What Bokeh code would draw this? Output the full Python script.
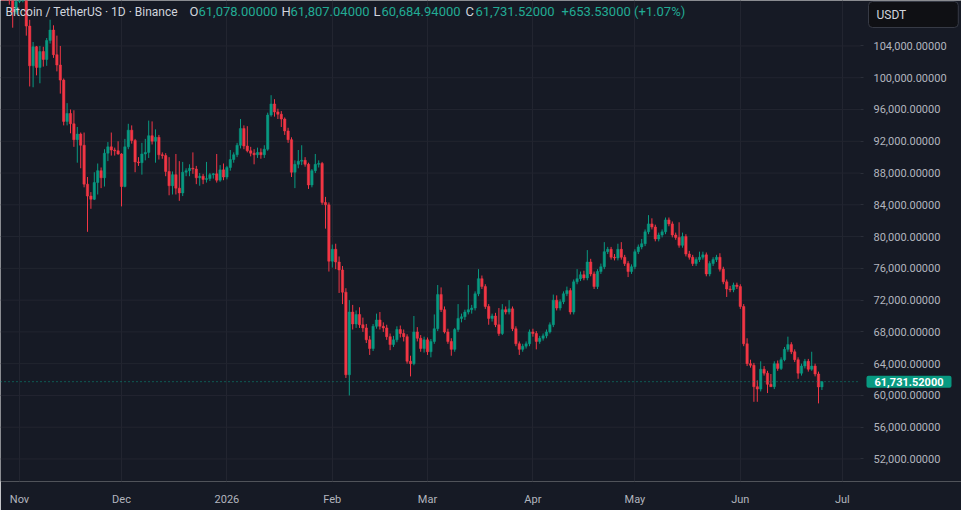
import pandas as pd
from bokeh.plotting import figure
from bokeh.models import ColumnDataSource, Range1d, FixedTicker, NumeralTickFormatter, Label
from bokeh.embed import file_html
from bokeh.resources import INLINE

# ---------------- data (daily candles, BTC/USDT) ----------------
start_date = "2025-10-27"
opens = [114500, 114100, 112900, 110000, 108300, 109600, 110100, 110600, 106500, 101500,
         103900, 101300, 103300, 102300, 104700, 106000, 102900, 101600, 99700, 94500,
         95500, 94200, 92200, 92900, 91500, 86600, 85100, 84700, 86800, 88300,
         87400, 90500, 91300, 90900, 90800, 90400, 86300, 91300, 93400, 92100,
         89400, 89300, 90400, 90600, 92700, 92000, 92500, 90300, 90200, 88200,
         86400, 87800, 86100, 85500, 88100, 88300, 88600, 88500, 87400, 87600,
         87200, 87300, 87800, 87900, 87100, 88400, 87500, 88700, 89700, 90300,
         91500, 93600, 91400, 90800, 90500, 90300, 90600, 90300, 91000, 95300,
         96700, 95700, 95400, 94800, 93300, 92200, 88100, 89100, 89500, 89600,
         89100, 86500, 88300, 89100, 89200, 84300, 84000, 76900, 78400, 76800,
         75800, 73000, 62600, 70500, 69000, 70200, 68900, 68500, 67000, 65900,
         68700, 69500, 68700, 68500, 67400, 66400, 67000, 68300, 67800, 67400,
         64300, 64000, 68000, 67200, 65900, 67000, 65500, 66800, 68400, 72700,
         70800, 68000, 66800, 65800, 68300, 69700, 69900, 70500, 70800, 71000,
         72800, 74700, 73700, 71200, 69700, 70000, 68900, 67800, 70800, 70500,
         70900, 68400, 66500, 65800, 66200, 66500, 68000, 67800, 66800, 67200,
         67500, 68000, 68900, 72000, 71000, 71800, 72800, 73200, 70500, 74300,
         74700, 75200, 74800, 76800, 75300, 73700, 75600, 76200, 78100, 78400,
         77400, 77300, 78400, 77400, 76600, 75600, 76200, 78100, 78700, 79100,
         80600, 81600, 81200, 79700, 80200, 80600, 82100, 81600, 80200, 79900,
         78900, 80000, 77800, 77400, 76600, 77100, 77400, 77700, 75300, 76600,
         77100, 77400, 75900, 74300, 73400, 73300, 73900, 73700, 71200, 66500,
         64000, 63800, 61100, 60800, 63300, 62800, 61400, 61100, 64000, 63400,
         64500, 65800, 66400, 65500, 64500, 62800, 63700, 64300, 63300, 63700,
         62700, 61078.00]
highs = [116400, 116100, 113600, 111600, 111200, 110600, 111200, 110800, 107300, 104500,
         104000, 104000, 103900, 105000, 107300, 106600, 105300, 104000, 99900, 96800,
         96000, 95900, 93800, 93100, 93100, 87500, 85600, 88100, 89200, 88700,
         91000, 91900, 93100, 91200, 92000, 90500, 92300, 94200, 94000, 92300,
         90000, 91800, 92300, 94600, 94500, 93500, 92800, 90600, 90500, 90000,
         88200, 90400, 89500, 89400, 88600, 89100, 90600, 88900, 88000, 87900,
         89400, 88000, 88000, 90400, 89000, 89200, 88900, 90900, 90600, 91800,
         94800, 94000, 93900, 91300, 91000, 91200, 91100, 91500, 95600, 97800,
         97300, 96100, 95800, 95000, 93700, 92500, 89600, 90900, 91500, 90000,
         89300, 88500, 90400, 89600, 89400, 85000, 84300, 79000, 79100, 77500,
         76300, 73500, 72000, 71400, 70700, 71100, 69800, 69000, 67500, 69000,
         70300, 70500, 69200, 68900, 67800, 67500, 68700, 68800, 68300, 67700,
         65000, 70000, 68600, 67600, 67400, 67300, 67100, 70200, 73900, 73600,
         71200, 68400, 67200, 68500, 71500, 70300, 70800, 73900, 71400, 73100,
         75900, 75100, 74000, 71500, 70300, 70400, 71000, 71500, 71200, 72000,
         71200, 68700, 66800, 66500, 66800, 68300, 68400, 68100, 67500, 67800,
         68300, 69200, 72700, 72600, 72100, 73100, 73700, 73500, 74600, 75900,
         75600, 75700, 78300, 77200, 75600, 75900, 76600, 79300, 78700, 78700,
         77800, 79100, 79300, 77700, 76900, 76500, 78400, 79000, 79700, 80900,
         82700, 82300, 81500, 80500, 80900, 82400, 82400, 81900, 80500, 81800,
         80500, 80300, 78200, 77700, 77400, 78100, 78100, 78000, 76900, 77400,
         77700, 77900, 76200, 74600, 73800, 74200, 74200, 74000, 71500, 67200,
         64500, 64100, 61900, 64300, 63700, 63100, 62700, 64300, 64400, 64800,
         66100, 67400, 66700, 65800, 64800, 64000, 64600, 64600, 65500, 64000,
         63000, 61807.04]
lows = [113900, 112200, 109200, 106300, 108000, 109400, 109500, 105300, 98900, 98800,
        100300, 99300, 101400, 101500, 104300, 102500, 100800, 98000, 94000, 94000,
        93000, 91300, 89300, 88600, 86200, 80600, 83500, 84600, 85300, 86100,
        86300, 89500, 90200, 90200, 90300, 83800, 86200, 91000, 91700, 88100,
        88900, 87800, 89600, 89900, 91600, 89300, 89700, 89800, 87600, 85200,
        85300, 85300, 84500, 85100, 87600, 87600, 87900, 86600, 86400, 86600,
        86800, 87000, 87300, 86800, 86900, 87100, 87200, 88300, 89300, 90000,
        91100, 91000, 90600, 90100, 89100, 89900, 89800, 89900, 90800, 95100,
        95100, 94800, 93800, 92800, 91800, 87500, 86100, 88600, 89000, 88800,
        86000, 86200, 88000, 88700, 84000, 81000, 75600, 76100, 75900, 72900,
        71500, 62200, 60000, 68300, 68500, 68500, 68000, 66600, 65100, 65600,
        68400, 68300, 68000, 67000, 65700, 66100, 66700, 67300, 66800, 64000,
        62400, 63800, 66800, 65500, 65400, 65100, 64800, 66500, 68100, 70500,
        67800, 66500, 65000, 65500, 68000, 69200, 69500, 70200, 70300, 70700,
        72500, 73400, 70900, 68900, 69300, 68600, 67500, 67600, 70200, 70200,
        68100, 66200, 65100, 65500, 65900, 66200, 67400, 65800, 66500, 66900,
        67200, 67800, 68600, 70700, 70700, 71500, 72500, 70200, 70200, 74000,
        74400, 74500, 74500, 75000, 73400, 73400, 75300, 75900, 77800, 77100,
        77000, 77000, 77100, 76300, 74900, 75300, 75900, 77800, 78400, 78800,
        80300, 80900, 79400, 79400, 79900, 80300, 81300, 79900, 79600, 78600,
        78600, 77500, 77100, 76300, 76300, 76800, 77100, 75000, 75000, 76300,
        76800, 75600, 74000, 72400, 73000, 73000, 73400, 70900, 66200, 63700,
        63500, 59200, 59200, 60500, 62500, 60300, 61100, 60800, 63100, 63200,
        64300, 65500, 65200, 64200, 62100, 62500, 63400, 63000, 63100, 62400,
        59000, 60684.94]
closes = [114100, 112900, 110000, 108300, 109600, 110100, 110600, 106500, 101500, 103900,
          101300, 103300, 102300, 104700, 106000, 102900, 101600, 99700, 94500, 95500,
          94200, 92200, 92900, 91500, 86600, 85100, 84700, 86800, 88300, 87400,
          90500, 91300, 90900, 90800, 90400, 86300, 91300, 93400, 92100, 89400,
          89300, 90400, 90600, 92700, 92000, 92500, 90300, 90200, 88200, 86400,
          87800, 86100, 85500, 88100, 88300, 88600, 88500, 87400, 87600, 87200,
          87300, 87800, 87900, 87100, 88400, 87500, 88700, 89700, 90300, 91500,
          93600, 91400, 90800, 90500, 90300, 90600, 90300, 91000, 95300, 96700,
          95700, 95400, 94800, 93300, 92200, 88100, 89100, 89500, 89600, 89100,
          86500, 88300, 89100, 89200, 84300, 84000, 76900, 78400, 76800, 75800,
          73000, 62600, 70500, 69000, 70200, 68900, 68500, 67000, 65900, 68700,
          69500, 68700, 68500, 67400, 66400, 67000, 68300, 67800, 67400, 64300,
          64000, 68000, 67200, 65900, 67000, 65500, 66800, 68400, 72700, 70800,
          68000, 66800, 65800, 68300, 69700, 69900, 70500, 70800, 71000, 72800,
          74700, 73700, 71200, 69700, 70000, 68900, 67800, 70800, 70500, 70900,
          68400, 66500, 65800, 66200, 66500, 68000, 67800, 66800, 67200, 67500,
          68000, 68900, 72000, 71000, 71800, 72800, 73200, 70500, 74300, 74700,
          75200, 74800, 76800, 75300, 73700, 75600, 76200, 78100, 78400, 77400,
          77300, 78400, 77400, 76600, 75600, 76200, 78100, 78700, 79100, 80600,
          81600, 81200, 79700, 80200, 80600, 82100, 81600, 80200, 79900, 78900,
          80000, 77800, 77400, 76600, 77100, 77400, 77700, 75300, 76600, 77100,
          77400, 75900, 74300, 73400, 73300, 73900, 73700, 71200, 66500, 64000,
          63800, 61100, 60800, 63300, 62800, 61400, 61100, 64000, 63400, 64500,
          65800, 66400, 65500, 64500, 62800, 63700, 64300, 63300, 63700, 62700,
          61078.00, 61731.52]

month_starts = ["2025-11-01", "2025-12-01", "2026-01-01", "2026-02-01", "2026-03-01",
                "2026-04-01", "2026-05-01", "2026-06-01", "2026-07-01"]
month_labels = ["Nov", "Dec", "2026", "Feb", "Mar", "Apr", "May", "Jun", "Jul"]
price_ticks = [52000, 56000, 60000, 64000, 68000, 72000, 76000, 80000, 84000,
               88000, 92000, 96000, 100000, 104000]

symbol_text = "Bitcoin / TetherUS \u00b7 1D \u00b7 Binance"
last_open, last_high, last_low, last_close = 61078.00, 61807.04, 60684.94, 61731.52
change_text = "+653.53000 (+1.07%)"
currency = "USDT"

# ---------------- style ----------------
BG = "#161a25"
GRID = "#222530"
UP = "#089981"
DOWN = "#f23645"
TXT = "#b2b5be"
TITLE = "#d1d4dc"
LEG_UP = "#22ab94"

origin = pd.Timestamp("2025-11-01")
dates = pd.date_range(start_date, periods=len(closes), freq="D")
xs = [(d - origin).days for d in dates]
df = pd.DataFrame(dict(x=xs, open=opens, high=highs, low=lows, close=closes))
df["top"] = df[["open", "close"]].max(axis=1)
df["bottom"] = df[["open", "close"]].min(axis=1)
df["color"] = [UP if c >= o else DOWN for o, c in zip(df.open, df.close)]
src = ColumnDataSource(df)

month_pos = [(pd.Timestamp(m) - origin).days for m in month_starts]

PX_PER_DAY = 3.4
W = 961
PANE_W = 860                      # chart pane width, price scale to its right
x_start = -19 / PX_PER_DAY
x_end = x_start + W / PX_PER_DAY
x_scale = x_start + PANE_W / PX_PER_DAY
y_lo, y_hi = 49165, 109723

p = figure(width=W, height=510, output_backend="svg", toolbar_location=None,
           x_range=Range1d(x_start, x_end), y_range=Range1d(y_lo, y_hi),
           y_axis_location="right",
           min_border_left=0, min_border_top=0, min_border_right=0, min_border_bottom=29,
           background_fill_color=BG, border_fill_color=BG, outline_line_color=None)

# horizontal grid limited to the chart pane
p.segment(x0=[x_start] * len(price_ticks), x1=[x_scale] * len(price_ticks),
          y0=price_ticks, y1=price_ticks, line_color=GRID, line_width=1)
p.ygrid.visible = False
p.xgrid.ticker = FixedTicker(ticks=month_pos)
p.xgrid.grid_line_color = GRID

# candles
p.segment("x", "high", "x", "low", source=src, line_color="color", line_width=1)
p.vbar(x="x", width=0.7, top="top", bottom="bottom", source=src,
       fill_color="color", line_color="color", line_width=0.5)

# last price dotted line
p.segment(x0=[x_start], x1=[x_scale], y0=[last_close], y1=[last_close],
          line_color=UP, line_dash="1 3", line_width=1)

# x axis
xa = p.xaxis[0]
xa.ticker = FixedTicker(ticks=month_pos)
xa.major_label_overrides = {m: l for m, l in zip(month_pos, month_labels)}
xa.axis_line_color = None
xa.major_tick_line_color = None
xa.major_tick_out = 0
xa.major_tick_in = 0
xa.minor_tick_line_color = None
xa.minor_tick_out = 0
xa.major_label_text_color = TXT
xa.major_label_text_font = "Roboto"
xa.major_label_text_font_size = "11px"
xa.major_label_standoff = 11

# price scale axis, fixed at the pane edge
ya = p.yaxis[0]
ya.fixed_location = x_scale
ya.ticker = FixedTicker(ticks=price_ticks)
ya.formatter = NumeralTickFormatter(format="0,0.00000")
ya.axis_line_color = None
ya.major_tick_line_color = "#2a2e39"
ya.major_tick_out = 3
ya.major_tick_in = 0
ya.minor_tick_line_color = None
ya.major_label_text_color = TXT
ya.major_label_text_font = "Roboto"
ya.major_label_text_font_size = "11px"
ya.major_label_standoff = 10

# last price tag
p.add_layout(Label(x=x_scale, y=last_close, x_offset=6, text=f"{last_close:,.5f}",
                   text_align="left", text_baseline="middle", text_color="white",
                   text_font="Roboto", text_font_size="11px", text_font_style="bold",
                   background_fill_color=UP, padding=dict(left=8, right=8, top=2, bottom=2),
                   border_radius=2))

# currency box
p.add_layout(Label(x=x_scale, y=y_hi, x_offset=8, y_offset=-14, text=currency,
                   text_align="left", text_baseline="middle", text_color=TITLE,
                   text_font="Roboto", text_font_size="12px",
                   background_fill_color="#0f1014", border_line_color="#363a45",
                   padding=dict(left=8, right=52, top=6, bottom=6), border_radius=4))

# legend line
def leg(xpos, text, color, size="13px"):
    p.add_layout(Label(x=x_start, y=y_hi, x_offset=xpos, y_offset=-11, text=text,
                       text_align="left", text_baseline="middle", text_color=color,
                       text_font="Roboto", text_font_size=size))

leg(5, symbol_text, TITLE, "12px")
leg(189, "O", TITLE)
leg(198, f"{last_open:,.5f}", LEG_UP)
leg(281, "H", TITLE)
leg(290, f"{last_high:,.5f}", LEG_UP)
leg(373, "L", TITLE)
leg(381, f"{last_low:,.5f}", LEG_UP)
leg(465, "C", TITLE)
leg(475, f"{last_close:,.5f}", LEG_UP)
leg(561, change_text, LEG_UP)

open("out.html", "w").write(file_html(p, INLINE))
